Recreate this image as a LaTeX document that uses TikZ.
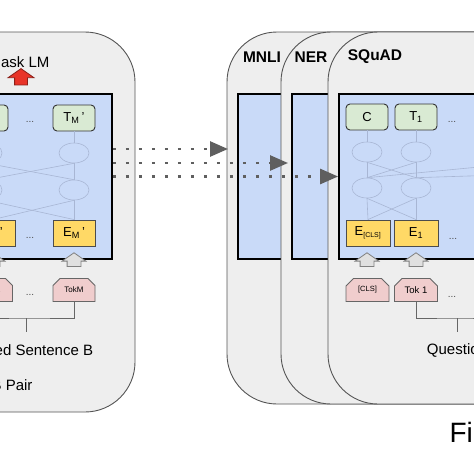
\documentclass[tikz,border=0pt]{standalone}
\usepackage{fontspec}
\setmainfont{Liberation Sans}
\usepackage{xcolor}
\usetikzlibrary{arrows.meta,positioning,shapes.misc,shapes.arrows,shapes.geometric}
\definecolor{panelCol}{RGB}{238,238,238}
\definecolor{edgeCol}{RGB}{85,85,85}
\definecolor{encCol}{RGB}{201,218,248}
\definecolor{outCol}{RGB}{217,234,211}
\definecolor{embCol}{RGB}{255,217,102}
\definecolor{tokCol}{RGB}{240,205,205}
\definecolor{netCol}{RGB}{168,182,212}
\definecolor{dotCol}{RGB}{95,95,95}
\definecolor{maskCol}{RGB}{232,52,40}
\tikzset{
  panel/.style={draw=edgeCol, fill=panelCol, rounded corners=50pt, line width=0.9pt, inner sep=0pt},
  enc/.style={draw=black, fill=encCol, line width=1.8pt, inner sep=0pt, minimum height=165pt},
  outbox/.style={draw=black!80, fill=outCol, rounded corners=4pt, line width=0.9pt,
                 minimum width=42pt, minimum height=26pt, inner sep=0pt, font=\fontsize{13}{13}\selectfont},
  embbox/.style={draw=black!70, fill=embCol, line width=0.9pt,
                 minimum width=44pt, minimum height=26pt, inner sep=0pt, font=\fontsize{13}{13}\selectfont},
  tokbox/.style={chamfered rectangle, chamfered rectangle corners={north west,north east},
                 chamfered rectangle xsep=4pt, chamfered rectangle ysep=4pt,
                 draw=black!60, fill=tokCol, line width=0.8pt,
                 minimum width=43pt, minimum height=23pt, inner sep=0pt, font=\fontsize{8}{8}\selectfont},
  cell/.style={ellipse, draw=netCol, minimum width=30pt, minimum height=20pt, inner sep=0pt, line width=0.6pt},
  net/.style={draw=netCol, line width=0.6pt},
  upin/.style={single arrow, rotate=90, draw=gray, fill=black!12, line width=0.8pt,
               inner xsep=4pt, inner ysep=6.5pt, minimum width=0pt, minimum height=0pt,
               single arrow head extend=5pt, single arrow tip angle=110},
  gap/.style={font=\fontsize{10}{10}\selectfont, text=black!70},
  task/.style={font=\fontsize{15.5}{15.5}\selectfont\bfseries},
  caption/.style={font=\fontsize{15}{15}\selectfont},
  brace/.style={draw=black!60, line width=0.9pt},
  feed/.style={draw=dotCol, line width=2.6pt, dash pattern=on 2.6pt off 10.4pt,
               -{Triangle[length=18pt,width=15pt]}},
}
\begin{document}
\begin{tikzpicture}[x=1pt,y=-1pt]
  \useasboundingbox (0,0) rectangle (474,474);
  \clip (0,0) rectangle (474,474);

  % pre-training side (cut at the left)
  \node[panel, minimum width=435pt, minimum height=380pt] (pre) at (-82.5,222) {};
  \node[caption, anchor=east] (mlm) at (53,62) {Mask LM};
  \node[upin, fill=maskCol, draw=maskCol!60!black, inner xsep=5.5pt, inner ysep=6pt,
        single arrow head extend=6.5pt] (mlmUp) at (21,79) {};
  \node[enc, minimum width=412pt] (preEnc) at (-94,176.5) {};
  \node[outbox] (tA1) at (-13,118) {T\textsubscript{1}\,'};
  \node[outbox] (tAM) at (74,118) {T\textsubscript{M}\,'};
  \node[gap] (tAgap) at (30,122) {...};
  \node[cell] (cA1hi) at (-13,153) {};
  \node[cell] (cA1lo) at (-13,190) {};
  \node[cell] (cAMhi) at (74,153) {};
  \node[cell] (cAMlo) at (74,190) {};
  \node[embbox] (eA1) at (-7,233) {E\textsubscript{1}\,'};
  \node[embbox, minimum width=42pt] (eAM) at (74,233) {E\textsubscript{M}\,'};
  \node[gap] (eAgap) at (30,238) {...};
  % faint layers
  \draw[net] (eAM.north) -- (cAMlo.south);
  \draw[net] (cAMlo.north) -- (cAMhi.south);
  \draw[net] (cAMhi.north) -- (tAM.south);
  \draw[net] (eA1.north) -- (cAMlo.south);
  \draw[net] (cA1lo.north) -- (cAMhi.south);
  \draw[net] (eAM.north) -- (cA1lo.south);
  \draw[net] (cAMlo.north) -- (cA1hi.south);
  \node[upin] (upA1) at (-7,262) {};
  \node[upin] (upAM) at (74,262) {};
  \node[tokbox] (tokA1) at (-9,290) {Tok 1};
  \node[tokbox, minimum width=42pt] (tokAM) at (74,290) {TokM};
  \node[gap] (tokAgap) at (30,295) {...};
  \coordinate (brA) at (26,318);
  \coordinate (stemA) at (26,332);
  \draw[brace] (tokA1.south) |- (brA) -| (tokAM.south);
  \draw[brace] (brA) -- (stemA);
  \node[caption] (sentB) at (26,350) {Masked Sentence B};
  \node[caption, anchor=east] (pair) at (36,385) {Unlabeled Sentence A and B Pair};

  % fine-tuning side
  \node[panel, minimum width=400pt, minimum height=372pt] (mnli) at (427,218) {};
  \node[enc, minimum width=380pt] (mnliEnc) at (428,176.5) {};
  \node[task] (mnliLbl) at (262,57) {MNLI};
  \node[panel, minimum width=400pt, minimum height=372pt] (ner) at (481,218) {};
  \node[enc, minimum width=380pt] (nerEnc) at (482,176.5) {};
  \node[task] (nerLbl) at (311,57) {NER};
  \node[panel, minimum width=400pt, minimum height=372pt] (squad) at (528,218) {};
  \node[enc, minimum width=380pt] (squadEnc) at (529,176.5) {};
  \node[task] (squadLbl) at (375,57) {SQuAD};

  \node[outbox] (tBC) at (367,117) {C};
  \node[outbox] (tB1) at (416,117) {T\textsubscript{1}};
  \node[gap] (tBgap) at (452,122) {...};
  \node[cell] (cBChi) at (367,152) {};
  \node[cell] (cBClo) at (367,188) {};
  \node[cell] (cB1hi) at (416,152) {};
  \node[cell] (cB1lo) at (416,188) {};
  \node[embbox] (eBC) at (368,233) {E\textsubscript{\fontsize{7}{7}\selectfont[CLS]}};
  \node[embbox] (eB1) at (416,233) {E\textsubscript{1}};
  \node[gap] (eBgap) at (453,239) {...};
  \coordinate (netR1) at (500,165);
  \coordinate (netR2) at (500,175);
  % faint layers
  \draw[net] (eBC.north) -- (cBClo.south);
  \draw[net] (cBClo.north) -- (cBChi.south);
  \draw[net] (cBChi.north) -- (tBC.south);
  \draw[net] (eB1.north) -- (cB1lo.south);
  \draw[net] (cB1lo.north) -- (cB1hi.south);
  \draw[net] (cB1hi.north) -- (tB1.south);
  \draw[net] (cBClo.north) -- (cB1hi.south);
  \draw[net] (cB1lo.north) -- (cBChi.south);
  \draw[net] (cBClo.north) -- (netR1);
  \draw[net] (cB1lo.north) -- (netR2);
  \draw[net] (eBC.north) -- (cB1lo.south);
  \draw[net] (eB1.north) -- (cBClo.south);
  \node[upin] (upBC) at (367,262) {};
  \node[upin] (upB1) at (416,262) {};
  \node[tokbox, font=\fontsize{7.5}{7.5}\selectfont] (tokBC) at (367.5,290) {[CLS]};
  \node[tokbox, font=\fontsize{9.5}{9.5}\selectfont] (tokB1) at (416,290) {Tok 1};
  \node[gap] (tokBgap) at (452,297) {...};
  \coordinate (brB) at (457,318);
  \coordinate (brBend) at (490,318);
  \coordinate (stemB) at (457,332);
  \draw[brace] (tokB1.south) |- (brB) -- (brBend);
  \draw[brace] (brB) -- (stemB);
  \node[caption] (question) at (457,350) {Question};
  \node[font=\fontsize{28}{28}\selectfont, anchor=west] (fine) at (446,435) {Fine-Tuning};

  % transfer of the pre-trained weights
  \coordinate (mnliIn) at (228,149);
  \coordinate (nerIn) at (288,163);
  \draw[feed] (preEnc.east |- mnliIn) -- (mnliIn);
  \draw[feed] (preEnc.east |- nerIn) -- (nerIn);
  \draw[feed] (preEnc.east) -- (squadEnc.west);
\end{tikzpicture}
\end{document}
